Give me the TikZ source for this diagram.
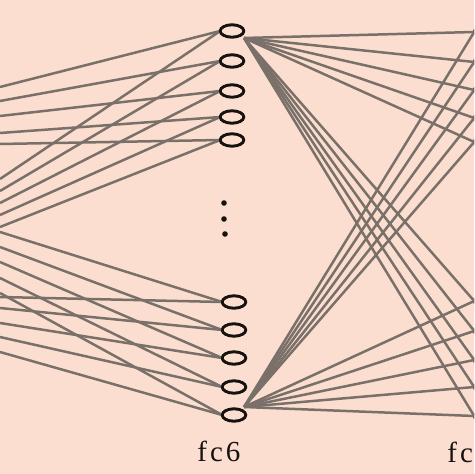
\documentclass[tikz,border=0pt]{standalone}
\usepackage{fontspec}
\setmainfont{Liberation Serif}
\usetikzlibrary{shapes.geometric,calc}
\definecolor{bg}{RGB}{251,222,207}
\definecolor{wirec}{RGB}{122,112,106}
\definecolor{ringc}{RGB}{22,18,16}
\begin{document}
\begin{tikzpicture}[x=0.5pt,y=-0.5pt,
  neuron/.style={ellipse, draw=ringc, line width=1.3pt, minimum width=11.8pt, minimum height=6.2pt, inner sep=0pt, outer sep=0pt, fill=bg},
  wire/.style={draw=wirec, line width=1.25pt},
  dotnode/.style={circle, fill=ringc, minimum size=2.8pt, inner sep=0pt},
  lab/.style={font=\fontsize{14.5pt}{16pt}\selectfont, text=ringc, inner sep=0pt}]
\useasboundingbox (0,0) rectangle (474,474);
\clip (0,0) rectangle (474,474);
\fill[bg] (0,0) rectangle (474,474);
% fc6 column
\foreach \i/\yy in {1/31,2/61,3/91,4/117,5/140}{\node[neuron] (f\i) at (232,\yy) {};}
\foreach \i/\yy in {6/302,7/330,8/358,9/387,10/415}{\node[neuron] (f\i) at (234,\yy) {};}
% fc7 column (just beyond the right edge)
\foreach \i/\yy in {1/32,2/62,3/90,4/118,5/142,6/301,7/331,8/360,9/387,10/416}{\node[neuron] (g\i) at (486,\yy) {};}
% left free ends
\foreach \i/\ya/\yb in {1/87/179,2/101/191,3/116/203,4/133/215,5/144/227,6/297/232,7/308/247,8/323/262,9/337/278,10/352/293}{
  \coordinate (p\i) at (0,\ya);
  \coordinate (q\i) at (0,\yb);
  \draw[wire] (p\i) -- (f\i.west);
  \draw[wire] (q\i) -- (f\i.west);
}
% right fans
\coordinate (o1) at ($(f1)+(12,7)$);
\coordinate (o10) at ($(f10)+(10,-8)$);
\foreach \j in {1,...,10}{
  \draw[wire] (o1) -- (g\j.west);
  \draw[wire] (o10) -- (g\j.west);
}
% redraw fc6 rings on top
\foreach \i in {1,...,10}{\draw[draw=ringc, line width=1.3pt] (f\i.center) ellipse [x radius=5.9pt, y radius=3.1pt];}
% dots
\node[dotnode] (d1) at (224,203) {};
\node[dotnode] (d2) at (224,219) {};
\node[dotnode] (d3) at (225,234) {};
% labels
\node[lab, anchor=base] (t6) at (219,461) {f\kern1.5pt c\kern1.5pt 6};
\node[lab, anchor=base west] (t7) at (447,462) {f\kern1.5pt c};
\end{tikzpicture}
\end{document}
